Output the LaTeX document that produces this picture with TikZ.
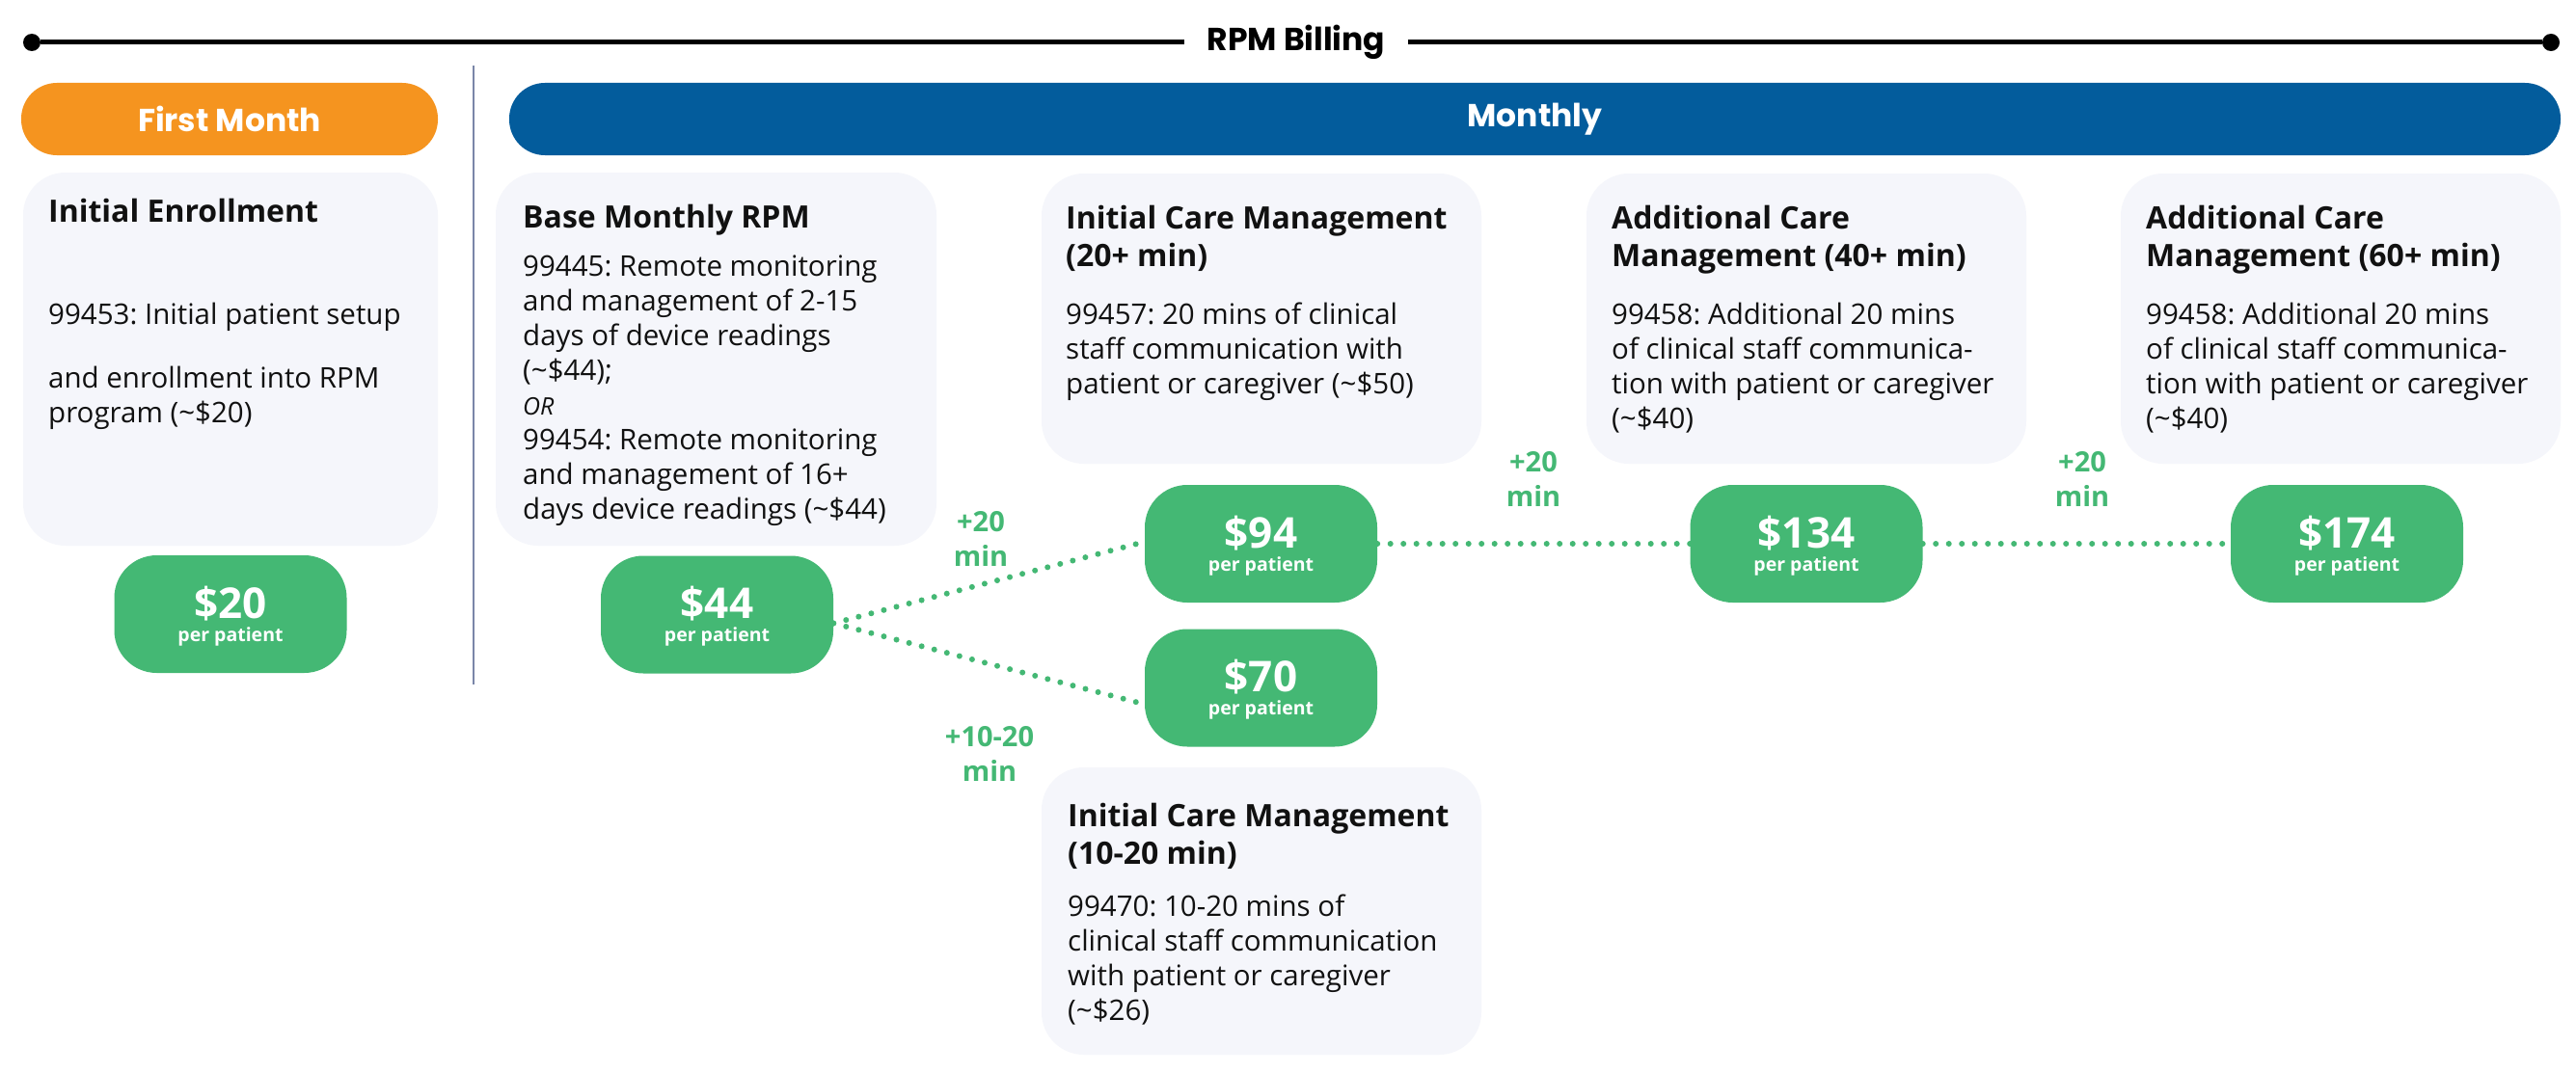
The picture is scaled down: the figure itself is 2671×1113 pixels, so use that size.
\documentclass[tikz,border=0pt]{standalone}
\usepackage{fontspec}
\setmainfont{Open Sans}
\newfontfamily\popf{Poppins}
\frenchspacing
\definecolor{rpmorange}{HTML}{F5941F}
\definecolor{rpmblue}{HTML}{035C9C}
\definecolor{rpmgreen}{HTML}{44B874}
\definecolor{cardbg}{HTML}{F5F6FB}
\definecolor{divcol}{HTML}{7A86A8}
\definecolor{ink}{HTML}{111111}
\newcommand\ctext[1]{\begin{tabular}[t]{@{}l@{}}#1\end{tabular}}
\newcommand\tld{\textasciitilde}
\begin{document}
\begin{tikzpicture}[x=1pt,y=-1pt,
  card/.style={fill=cardbg, rounded corners=44pt, inner sep=0pt, minimum height=#1},
  card/.default=301pt,
  pill/.style={rounded corners=37pt, inner sep=0pt, minimum height=75pt, text=white,
    font=\popf\bfseries\fontsize{33}{33}\selectfont},
  price/.style={fill=rpmgreen, rounded corners=44pt, inner sep=0pt, minimum width=241pt, minimum height=122pt},
  bigp/.style={text=white, inner sep=0pt, font=\bfseries\fontsize{44}{44}\selectfont},
  smallp/.style={text=white, inner sep=0pt, font=\bfseries\fontsize{19.5}{19.5}\selectfont},
  head/.style={anchor=base west, inner sep=0pt, text=ink, font=\bfseries\fontsize{32}{39}\selectfont},
  body/.style={anchor=base west, inner sep=0pt, text=ink, font=\fontsize{29.5}{36}\selectfont},
  glabel/.style={align=center, inner sep=0pt, text=rpmgreen, font=\bfseries\fontsize{29}{36}\selectfont},
  dots/.style={rpmgreen, line width=6pt, dash pattern=on 0pt off 13.5pt, line cap=round},
]
\useasboundingbox (0,0) rectangle (2671,1113);
\fill[white] (0,0) rectangle (2671,1113);

% top timeline
\node[circle, fill=black, inner sep=0pt, minimum size=18pt] (dl) at (33,44) {};
\node[circle, fill=black, inner sep=0pt, minimum size=18pt] (dr) at (2645,44) {};
\node[fill=white, inner xsep=23pt, inner ysep=4pt, font=\popf\bfseries\fontsize{33}{33}\selectfont] (title) at (1344,44) {RPM Billing};
\draw[line width=5pt] (dl) -- (title);
\draw[line width=5pt] (title) -- (dr);

% section pills
\node[pill, fill=rpmorange, minimum width=432pt] (fm) at (238,123.5) {First Month};
\node[pill, fill=rpmblue, minimum width=2127pt] (mo) at (1591.5,123.5) {Monthly};

% divider
\coordinate (d1) at (491,68);
\coordinate (d2) at (491,710);
\draw[divcol, line width=2.5pt] (d1) -- (d2);

% cards
\node[card=387pt, minimum width=430pt] (c1) at (239,372.5) {};
\node[card=387pt, minimum width=457pt] (c2) at (742.5,372.5) {};
\node[card, minimum width=456pt] (c3) at (1308,330.5) {};
\node[card, minimum width=456pt] (c4) at (1873,330.5) {};
\node[card, minimum width=456pt] (c5) at (2427,330.5) {};
\node[card=298pt, minimum width=456pt] (c6) at (1308,945) {};

% card texts
\node[head] (h1) at (50,230) {Initial Enrollment};
\node[body] (b1) at (50,336) {\ctext{99453: Initial patient setup\\[30pt]
and enrollment into RPM\\
program (\tld\$20)}};

\node[head] (h2) at (542,236) {Base Monthly RPM};
\node[body] (b2) at (542,286) {\ctext{99445: Remote monitoring\\
and management of 2-15\\
days of device readings\\
(\tld\$44);\\
{\itshape\fontsize{25}{36}\selectfont OR}\\
99454: Remote monitoring\\
and management of 16+\\
days device readings (\tld\$44)}};

\node[head] (h3) at (1105,237) {\ctext{Initial Care Management\\(20+ min)}};
\node[body] (b3) at (1105,336) {\ctext{99457: 20 mins of clinical\\
staff communication with\\
patient or caregiver (\tld\$50)}};

\node[head] (h4) at (1671,237) {\ctext{Additional Care\\Management (40+ min)}};
\node[body] (b4) at (1671,336) {\ctext{99458: Additional 20 mins\\
of clinical staff communica-\\
tion with patient or caregiver\\
(\tld\$40)}};

\node[head] (h5) at (2225,237) {\ctext{Additional Care\\Management (60+ min)}};
\node[body] (b5) at (2225,336) {\ctext{99458: Additional 20 mins\\
of clinical staff communica-\\
tion with patient or caregiver\\
(\tld\$40)}};

\node[head] (h6) at (1107,857) {\ctext{Initial Care Management\\(10-20 min)}};
\node[body] (b6) at (1107,950) {\ctext{99470: 10-20 mins of\\
clinical staff communication\\
with patient or caregiver\\
(\tld\$26)}};

% price pills
\node[price] (p20) at (239,637) {};
\node[price] (p44) at (743.5,637.5) {};
\node[price] (p94) at (1307.5,564) {};
\node[price] (p70) at (1307.5,713.5) {};
\node[price] (p134) at (1873,564) {};
\node[price] (p174) at (2433.5,564) {};
\foreach \n/\v in {p20/20, p44/44, p94/94, p70/70, p134/134, p174/174}{
  \node[bigp] (\n big) at ([yshift=11pt]\n.center) {\$\v};
  \node[smallp] (\n small) at ([yshift=-23pt]\n.center) {per patient};
}

% connectors
\draw[dots] ([yshift=-9pt]p44.east) -- ([yshift=2pt]p94.west);
\draw[dots] ([yshift=-9pt]p44.east) -- ([yshift=-17pt]p70.west);
\draw[dots] (p94.east) -- (p134.west);
\draw[dots] (p134.east) -- (p174.west);

% green labels
\node[glabel] (g1) at (1017,559) {+20\\min};
\node[glabel] (g2) at (1026,782) {+10-20\\min};
\node[glabel] (g3) at (1590,497) {+20\\min};
\node[glabel] (g4) at (2159,497) {+20\\min};
\end{tikzpicture}
\end{document}
